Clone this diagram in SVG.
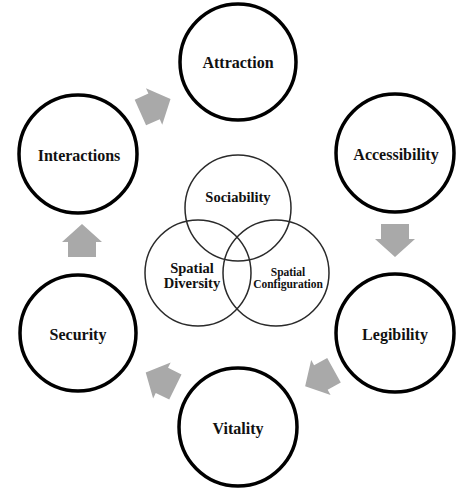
<svg xmlns="http://www.w3.org/2000/svg" width="474" height="497" viewBox="0 0 474 497">
<defs>
<style>
.big{fill:#fff;stroke:#000;stroke-width:3.5}
.small{fill:none;stroke:#2a2a2a;stroke-width:1.5}
.lbl{font-family:"Liberation Serif",serif;font-weight:bold;font-size:16px;fill:#111;text-anchor:middle;dominant-baseline:central}
.in{font-family:"Liberation Serif",serif;font-weight:bold;font-size:14.5px;fill:#111;text-anchor:middle}
.in2{font-family:"Liberation Serif",serif;font-weight:bold;font-size:11.5px;fill:#111;text-anchor:middle}
.arr{fill:#a9a9a9}
</style>
<path id="ar" d="M0,-17 L20,1 L14,1 L14,16 L-14,16 L-14,1 L-20,1 Z"/>
</defs>
<rect width="474" height="497" fill="#fff"/>
<g id="attraction"><circle class="big" cx="238" cy="62" r="58"/><text class="lbl" x="238" y="62">Attraction</text></g>
<g id="accessibility"><circle class="big" cx="395" cy="153" r="59"/><text class="lbl" x="396" y="154">Accessibility</text></g>
<g id="legibility"><circle class="big" cx="395" cy="333" r="59"/><text class="lbl" x="395" y="334">Legibility</text></g>
<g id="vitality"><circle class="big" cx="238" cy="427" r="59"/><text class="lbl" x="238" y="428">Vitality</text></g>
<g id="security"><circle class="big" cx="78" cy="333" r="58"/><text class="lbl" x="78" y="334">Security</text></g>
<g id="interactions"><circle class="big" cx="78" cy="154" r="59"/><text class="lbl" x="79" y="155">Interactions</text></g>
<g id="sociability"><circle class="small" cx="238" cy="208" r="53"/><text class="in" x="238" y="202">Sociability</text></g>
<g id="spatial-diversity"><circle class="small" cx="198" cy="273" r="53"/><text class="in" x="192" y="273">Spatial</text><text class="in" x="192" y="288">Diversity</text></g>
<g id="spatial-configuration"><circle class="small" cx="276" cy="273" r="53"/><text class="in2" x="288" y="276">Spatial</text><text class="in2" x="288" y="288">Configuration</text></g>
<g id="connectors">
<use href="#ar" class="arr" transform="translate(155,106) rotate(66)"/>
<use href="#ar" class="arr" transform="translate(395,240) rotate(180)"/>
<use href="#ar" class="arr" transform="translate(320,378) rotate(-119)"/>
<use href="#ar" class="arr" transform="translate(161,380) rotate(-64)"/>
<use href="#ar" class="arr" transform="translate(82,241)"/>
</g>
</svg>
